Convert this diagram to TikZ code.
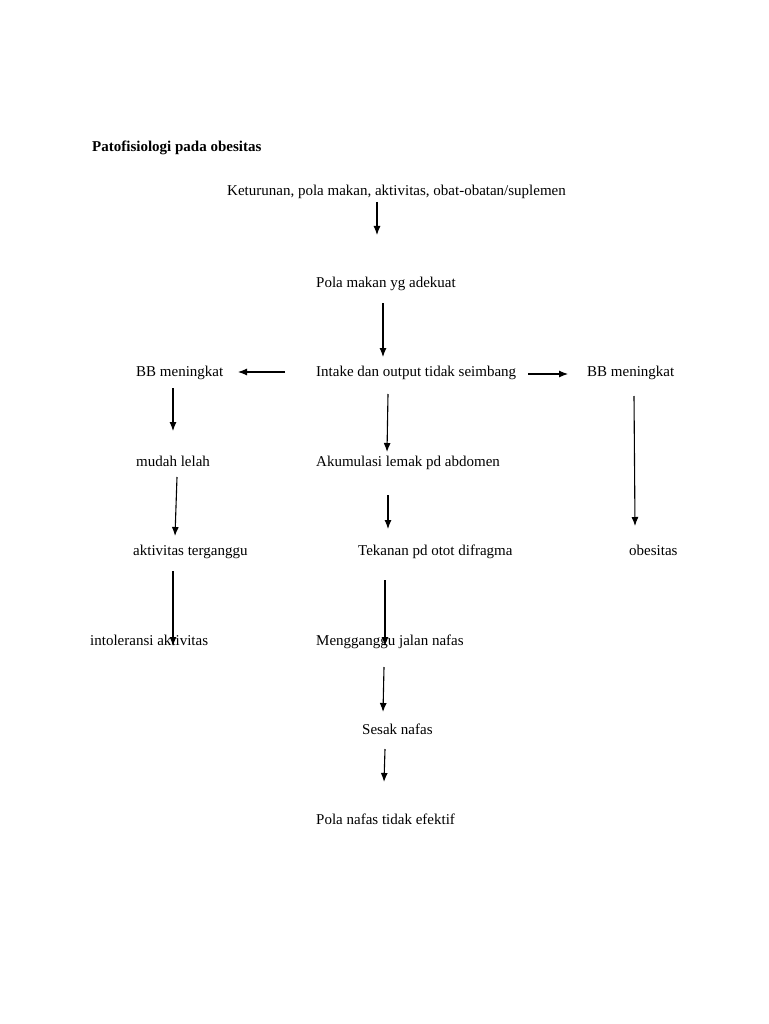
\documentclass[tikz,border=0pt]{standalone}
\usepackage{fontspec}
\setmainfont{Liberation Serif}
\usetikzlibrary{arrows.meta}
\begin{document}
\begin{tikzpicture}[x=1pt,y=-1pt,
  lbl/.style={anchor=west,inner sep=0pt,text height=11pt,text depth=3pt,font=\fontsize{15}{18}\selectfont},
  arr/.style={-{Latex[length=9pt,width=7pt]},line width=1.1pt}]
\useasboundingbox (0,0) rectangle (768,1024);
\node[lbl,font=\fontsize{15}{18}\selectfont\bfseries] (title) at (92,148) {Patofisiologi pada obesitas};
\node[lbl] (ket) at (227,192) {Keturunan, pola makan, aktivitas, obat-obatan/suplemen};
\node[lbl] (pola) at (316,283) {Pola makan yg adekuat};
\node[lbl] (intake) at (316,372) {Intake dan output tidak seimbang};
\node[lbl] (bbl) at (136,372) {BB meningkat};
\node[lbl] (bbr) at (587,372) {BB meningkat};
\node[lbl] (mudah) at (136,462) {mudah lelah};
\node[lbl] (akt) at (133,551) {aktivitas terganggu};
\node[lbl] (intol) at (90,641) {intoleransi aktivitas};
\node[lbl] (akum) at (316,462) {Akumulasi lemak pd abdomen};
\node[lbl] (tek) at (358,551) {Tekanan pd otot difragma};
\node[lbl] (meng) at (316,641) {Mengganggu jalan nafas};
\node[lbl] (sesak) at (362,730) {Sesak nafas};
\node[lbl] (polan) at (316,820) {Pola nafas tidak efektif};
\node[lbl] (obes) at (629,551) {obesitas};
% arrow endpoints
\coordinate (a1s) at (377,202); \coordinate (a1e) at (377,235);
\coordinate (a2s) at (383,303); \coordinate (a2e) at (383,357);
\coordinate (a3s) at (285,372); \coordinate (a3e) at (238,372);
\coordinate (a4s) at (528,374); \coordinate (a4e) at (568,374);
\coordinate (a5s) at (173,388); \coordinate (a5e) at (173,431);
\coordinate (a6s) at (177,477); \coordinate (a6e) at (175,536);
\coordinate (a7s) at (173,571); \coordinate (a7e) at (173,646);
\coordinate (a8s) at (388,394); \coordinate (a8e) at (387,452);
\coordinate (a9s) at (388,495); \coordinate (a9e) at (388,529);
\coordinate (a10s) at (385,580); \coordinate (a10e) at (385,646);
\coordinate (a11s) at (384,667); \coordinate (a11e) at (383,712);
\coordinate (a12s) at (385,749); \coordinate (a12e) at (384,782);
\coordinate (a13s) at (634,396); \coordinate (a13e) at (635,526);
\draw[arr] (a1s) -- (a1e);
\draw[arr] (a2s) -- (a2e);
\draw[arr] (a3s) -- (a3e);
\draw[arr] (a4s) -- (a4e);
\draw[arr] (a5s) -- (a5e);
\draw[arr] (a6s) -- (a6e);
\draw[arr] (a7s) -- (a7e);
\draw[arr] (a8s) -- (a8e);
\draw[arr] (a9s) -- (a9e);
\draw[arr] (a10s) -- (a10e);
\draw[arr] (a11s) -- (a11e);
\draw[arr] (a12s) -- (a12e);
\draw[arr] (a13s) -- (a13e);
\end{tikzpicture}
\end{document}
